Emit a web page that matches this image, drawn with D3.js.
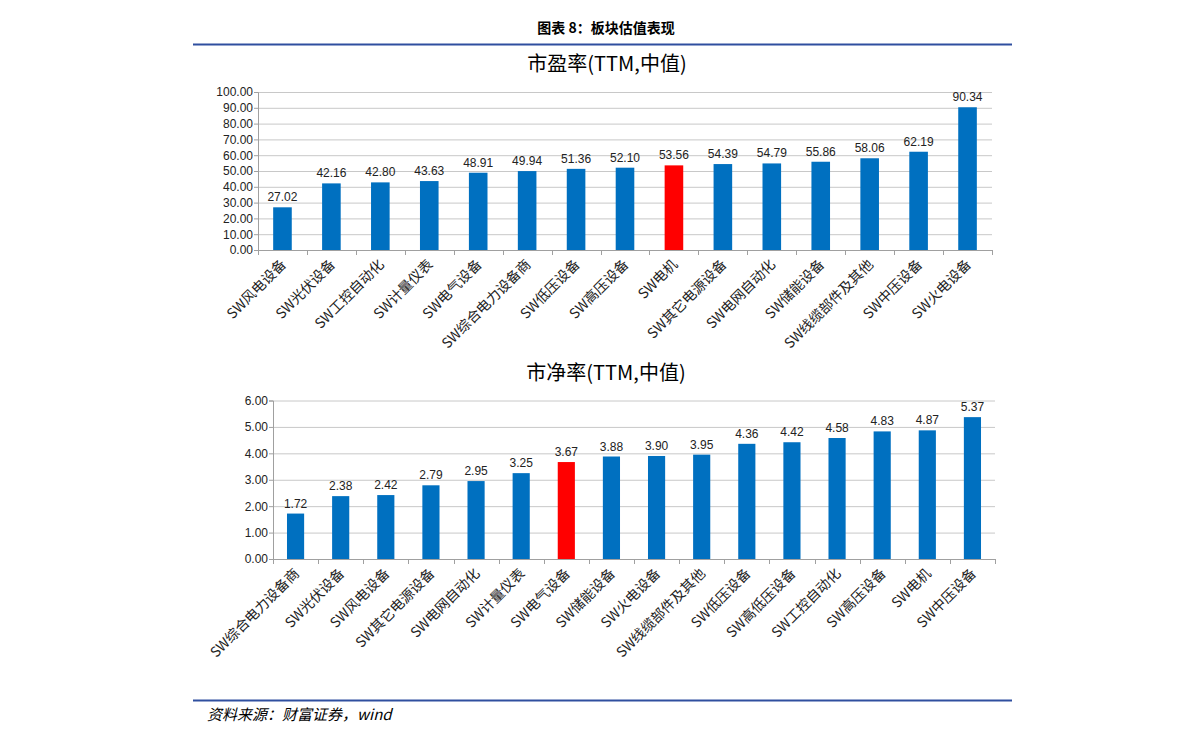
<!DOCTYPE html>
<html><head><meta charset="utf-8">
<script src="https://cdn.jsdelivr.net/npm/d3@7/dist/d3.min.js"></script>
<style>
html,body{margin:0;padding:0;background:#fff;}
svg{display:block;}
</style></head>
<body>
<svg id="c" width="1191" height="744"></svg>
<script>
// ---- data ----
const peCategories = ["SW风电设备","SW光伏设备","SW工控自动化","SW计量仪表","SW电气设备","SW综合电力设备商","SW低压设备","SW高压设备","SW电机","SW其它电源设备","SW电网自动化","SW储能设备","SW线缆部件及其他","SW中压设备","SW火电设备"];
const peValues = [27.02,42.16,42.80,43.63,48.91,49.94,51.36,52.10,53.56,54.39,54.79,55.86,58.06,62.19,90.34];
const peHighlight = ["SW电机"];
const peTicks = [0,10,20,30,40,50,60,70,80,90,100];

const pbCategories = ["SW综合电力设备商","SW光伏设备","SW风电设备","SW其它电源设备","SW电网自动化","SW计量仪表","SW电气设备","SW储能设备","SW火电设备","SW线缆部件及其他","SW低压设备","SW高低压设备","SW工控自动化","SW高压设备","SW电机","SW中压设备"];
const pbValues = [1.72,2.38,2.42,2.79,2.95,3.25,3.67,3.88,3.90,3.95,4.36,4.42,4.58,4.83,4.87,5.37];
const pbHighlight = ["SW电气设备"];
const pbTicks = [0,1,2,3,4,5,6];

const heading = "图表 8：板块估值表现";
const peTitle = "市盈率(TTM,中值)";
const pbTitle = "市净率(TTM,中值)";
const source = "资料来源：财富证券，wind";

// ---- drawing ----
const svg = d3.select("#c");
const NUM_FONT = "'Liberation Sans Narrow','Liberation Sans','Noto Sans CJK SC',sans-serif";
const CJK_FONT = "'Noto Sans CJK SC',sans-serif";
const LINE_BLUE = "#2F4F9F";

svg.append("rect").attr("width",1191).attr("height",744).attr("fill","#fff");

svg.append("text").attr("x",606).attr("y",33).attr("text-anchor","middle")
  .attr("font-family",CJK_FONT).attr("font-weight","bold").attr("font-size",14).attr("fill","#000")
  .text(heading);
svg.append("line").attr("x1",193).attr("x2",1012).attr("y1",44.5).attr("y2",44.5)
  .attr("stroke",LINE_BLUE).attr("stroke-width",2);
svg.append("line").attr("x1",193).attr("x2",1012).attr("y1",700.5).attr("y2",700.5)
  .attr("stroke",LINE_BLUE).attr("stroke-width",2);
svg.append("text").attr("x",207).attr("y",720)
  .attr("font-family",CJK_FONT).attr("font-style","italic").attr("font-size",15).attr("fill","#000")
  .text(source);

function drawChart(o){
  const g = svg.append("g");
  g.append("text").attr("x",o.titleX).attr("y",o.titleY).attr("text-anchor","middle")
    .attr("font-family",CJK_FONT).attr("font-size",20).attr("fill","#000").text(o.title);

  const x = d3.scaleBand().domain(o.cats).range([o.left,o.right]).padding(0);
  const y = d3.scaleLinear().domain([o.ticks[0],o.ticks[o.ticks.length-1]]).range([o.bottom,o.top]);
  const bw = x.bandwidth();

  // gridlines
  const grid = g.append("g").attr("transform",`translate(${o.left},0)`)
    .call(d3.axisLeft(y).tickValues(o.ticks).tickSize(-(o.right-o.left)).tickFormat(""));
  grid.select(".domain").remove();
  grid.selectAll(".tick line").attr("stroke","#C8C8C8").attr("stroke-width",1);

  // y axis
  const ya = g.append("g").attr("transform",`translate(${o.left},0)`)
    .call(d3.axisLeft(y).tickValues(o.ticks).tickSize(4).tickFormat(d3.format(".2f")));
  ya.select(".domain").attr("stroke","#A0A0A0");
  ya.selectAll(".tick line").attr("stroke","#A0A0A0");
  ya.selectAll(".tick text").attr("font-family",NUM_FONT).attr("font-size",12).attr("fill","#222").attr("x",-5);

  // bars
  g.selectAll("rect.bar").data(o.cats).enter().append("rect").attr("class","bar")
    .attr("x",d=>x(d)+bw*0.31).attr("width",bw*0.38)
    .attr("y",(d,i)=>y(o.vals[i])).attr("height",(d,i)=>y(0)-y(o.vals[i]))
    .attr("fill",d=>o.hl.includes(d)?"#FF0000":"#0070C0");

  // value labels
  g.selectAll("text.val").data(o.cats).enter().append("text").attr("class","val")
    .attr("x",d=>x(d)+bw/2).attr("y",(d,i)=>y(o.vals[i])-6).attr("text-anchor","middle")
    .attr("font-family",NUM_FONT).attr("font-size",12).attr("fill","#222")
    .text((d,i)=>d3.format(".2f")(o.vals[i]));

  // x axis line and ticks at band boundaries
  g.append("line").attr("x1",o.left).attr("x2",o.right).attr("y1",y(0)+0.5).attr("y2",y(0)+0.5).attr("stroke","#A0A0A0");
  const bounds = o.cats.map(d=>x(d)).concat([x(o.cats[o.cats.length-1])+bw]);
  g.selectAll("line.xt").data(bounds).enter().append("line").attr("class","xt")
    .attr("x1",d=>Math.round(d)+0.5).attr("x2",d=>Math.round(d)+0.5).attr("y1",y(0)).attr("y2",y(0)+5).attr("stroke","#A0A0A0");

  // category labels
  g.selectAll("text.cat").data(o.cats).enter().append("text").attr("class","cat")
    .attr("transform",d=>`translate(${x(d)+bw/2+1},${y(0)+12}) rotate(-45)`)
    .attr("text-anchor","end").attr("dy","0.35em")
    .attr("font-family",CJK_FONT).attr("font-size",14).attr("fill","#222")
    .text(d=>d);
}

drawChart({cats:peCategories, vals:peValues, hl:peHighlight, ticks:peTicks, title:peTitle,
  titleX:607, titleY:71, left:258, right:992, top:92, bottom:250});
drawChart({cats:pbCategories, vals:pbValues, hl:pbHighlight, ticks:pbTicks, title:pbTitle,
  titleX:606, titleY:380, left:273, right:995, top:400.5, bottom:559});
</script>
</body></html>
